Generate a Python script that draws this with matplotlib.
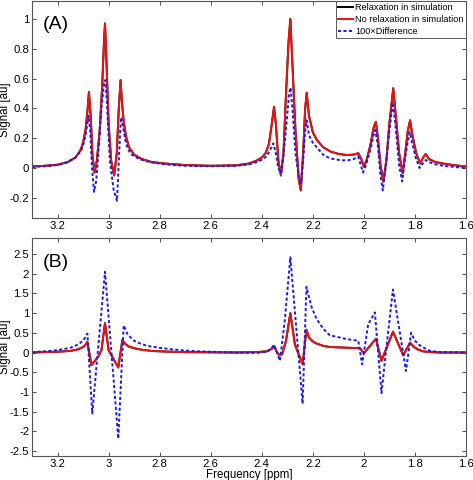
import matplotlib
matplotlib.use('Agg')
from matplotlib import pyplot as plt

plt.rcParams['font.family'] = ['Liberation Sans', 'DejaVu Sans']

# ---------------- panel A: spectra ----------------
ppm_a = [3.30, 3.25, 3.20, 3.16, 3.13, 3.11, 3.10, 3.09, 3.083, 3.077, 3.070, 3.063, 3.055, 3.046, 3.035,
         3.025, 3.018, 3.014, 3.009, 3.000, 2.990, 2.978, 2.968, 2.960, 2.953, 2.948, 2.940, 2.930, 2.920,
         2.900, 2.870, 2.830, 2.780, 2.700, 2.600, 2.500, 2.450, 2.420, 2.400, 2.385, 2.372, 2.362, 2.352,
         2.345, 2.335, 2.325, 2.315, 2.305, 2.295, 2.288, 2.280, 2.268, 2.255, 2.247, 2.238, 2.230, 2.224,
         2.215, 2.200, 2.185, 2.160, 2.130, 2.100, 2.067, 2.040, 2.022, 2.010, 2.000, 1.990, 1.975, 1.962,
         1.953, 1.945, 1.935, 1.924, 1.912, 1.900, 1.885, 1.875, 1.862, 1.848, 1.838, 1.828, 1.819, 1.810,
         1.795, 1.780, 1.768, 1.758, 1.745, 1.720, 1.690, 1.650, 1.600]
relax_a = [0.010, 0.015, 0.022, 0.04, 0.07, 0.12, 0.17, 0.26, 0.38, 0.51, 0.35, 0.08, -0.03, 0.05, 0.25,
           0.55, 0.85, 0.97, 0.75, 0.30, 0.05, -0.05, 0.10, 0.40, 0.59, 0.45, 0.30, 0.20, 0.14,
           0.09, 0.06, 0.04, 0.03, 0.02, 0.015, 0.018, 0.03, 0.05, 0.07, 0.10, 0.16, 0.28, 0.41,
           0.30, 0.05, -0.05, 0.10, 0.50, 0.85, 1.00, 0.70, 0.25, -0.08, -0.15, 0.10, 0.40, 0.505,
           0.35, 0.24, 0.19, 0.14, 0.11, 0.095, 0.087, 0.09, 0.099, 0.06, 0.01, 0.05, 0.15, 0.27,
           0.31, 0.20, 0.02, -0.09, 0.05, 0.30, 0.535, 0.35, 0.10, -0.036, 0.10, 0.25, 0.32, 0.22,
           0.10, 0.03, 0.07, 0.094, 0.06, 0.04, 0.03, 0.02, 0.01]
norelax_a = relax_a

ppm_a_diff = [3.30, 3.25, 3.20, 3.16, 3.13, 3.11, 3.10, 3.09, 3.083, 3.078, 3.072, 3.065, 3.057, 3.048, 3.038,
              3.028, 3.018, 3.013, 3.007, 2.995, 2.980, 2.967, 2.960, 2.953, 2.950, 2.943, 2.935, 2.925,
              2.910, 2.880, 2.840, 2.780, 2.700, 2.600, 2.500, 2.450, 2.420, 2.400, 2.380, 2.365, 2.355,
              2.345, 2.335, 2.326, 2.315, 2.303, 2.293, 2.287, 2.280, 2.268, 2.255, 2.247, 2.238, 2.230,
              2.224, 2.215, 2.200, 2.185, 2.160, 2.133, 2.100, 2.067, 2.040, 2.022, 2.012, 2.003, 1.992,
              1.975, 1.962, 1.955, 1.945, 1.935, 1.926, 1.915, 1.900, 1.887, 1.877, 1.862, 1.850, 1.840,
              1.828, 1.820, 1.810, 1.795, 1.782, 1.770, 1.758, 1.745, 1.720, 1.690, 1.650, 1.600]
diff_a = [0.008, 0.012, 0.02, 0.04, 0.07, 0.11, 0.15, 0.22, 0.30, 0.35, 0.25, 0.0, -0.16, -0.08, 0.15,
          0.40, 0.57, 0.59, 0.45, 0.05, -0.15, -0.22, 0.05, 0.30, 0.34, 0.27, 0.19, 0.13,
          0.09, 0.06, 0.04, 0.025, 0.015, 0.012, 0.015, 0.025, 0.04, 0.055, 0.08, 0.13, 0.166,
          0.10, 0.0, -0.035, 0.08, 0.30, 0.50, 0.54, 0.40, 0.10, -0.06, -0.10, 0.05, 0.25,
          0.32, 0.22, 0.17, 0.14, 0.09, 0.065, 0.055, 0.05, 0.06, 0.076, 0.02, -0.03, 0.02,
          0.12, 0.22, 0.255, 0.15, -0.05, -0.15, 0.0, 0.25, 0.44, 0.30, 0.02, -0.09, 0.05,
          0.18, 0.24, 0.16, 0.06, 0.0, 0.03, 0.054, 0.04, 0.025, 0.015, 0.008, 0.0]

# ---------------- panel B ----------------
ppm_b = [3.30, 3.25, 3.20, 3.15, 3.12, 3.10, 3.09, 3.083, 3.067, 3.040, 3.028, 3.014, 3.000, 2.962, 2.946,
         2.935, 2.920, 2.900, 2.870, 2.830, 2.780, 2.700, 2.600, 2.500, 2.420, 2.380, 2.360, 2.352, 2.340,
         2.330, 2.320, 2.305, 2.288, 2.270, 2.240, 2.225, 2.215, 2.200, 2.186, 2.160, 2.134, 2.100, 2.060,
         2.015, 2.000, 1.953, 1.931, 1.886, 1.846, 1.819, 1.805, 1.790, 1.768, 1.740, 1.700, 1.600]
relax_b = [0.0, 0.01, 0.02, 0.04, 0.08, 0.14, 0.20, 0.27, -0.32, -0.10, 0.06, 0.75, 0.06, -0.38, 0.32,
           0.22, 0.15, 0.11, 0.07, 0.04, 0.025, 0.01, 0.005, 0.0, 0.01, 0.03, 0.10, 0.16, 0.0,
           -0.07, -0.04, 0.30, 1.0, 0.20, -0.30, 0.58, 0.38, 0.28, 0.23, 0.17, 0.14, 0.13, 0.12,
           0.11, -0.02, 0.35, -0.21, 0.53, -0.07, 0.25, 0.15, 0.08, 0.03, 0.01, 0.0, 0.0]
norelax_b = relax_b

ppm_b_diff = [3.30, 3.25, 3.20, 3.15, 3.12, 3.10, 3.090, 3.083, 3.064, 3.014, 2.962, 2.941, 2.925, 2.900,
              2.877, 2.850, 2.800, 2.750, 2.700, 2.650, 2.600, 2.500, 2.420, 2.380, 2.365, 2.352, 2.340,
              2.329, 2.310, 2.288, 2.240, 2.225, 2.205, 2.186, 2.160, 2.134, 2.067, 2.022, 2.007, 1.983,
              1.957, 1.931, 1.913, 1.886, 1.835, 1.815, 1.800, 1.785, 1.768, 1.740, 1.700, 1.600]
diff_b = [0.01, 0.03, 0.06, 0.12, 0.20, 0.30, 0.40, 0.48, -1.55, 2.05, -2.19, 0.69, 0.45, 0.30,
          0.23, 0.17, 0.12, 0.08, 0.05, 0.03, 0.02, 0.0, -0.01, 0.02, 0.08, 0.20, 0.0,
          -0.21, 0.80, 2.42, -1.30, 1.67, 1.16, 0.86, 0.61, 0.44, 0.34, 0.30, -0.30, 0.72,
          1.02, -1.03, 0.06, 1.60, -0.47, 0.50, 0.30, 0.20, 0.13, 0.04, 0.01, 0.0]

xticks = [3.2, 3.0, 2.8, 2.6, 2.4, 2.2, 2.0, 1.8, 1.6]
xticklabels = ['3.2', '3', '2.8', '2.6', '2.4', '2.2', '2', '1.8', '1.6']
yticks_a = [-0.2, 0, 0.2, 0.4, 0.6, 0.8, 1]
yticklabels_a = ['-0.2', '0', '0.2', '0.4', '0.6', '0.8', '1']
yticks_b = [-2.5, -2, -1.5, -1, -0.5, 0, 0.5, 1, 1.5, 2, 2.5]
yticklabels_b = ['-2.5', '-2', '-1.5', '-1', '-0.5', '0', '0.5', '1', '1.5', '2', '2.5']

fig = plt.figure(figsize=(4.73, 4.80), dpi=100)
W, H = 473.0, 480.0
ax1 = fig.add_axes([32 / W, 1 - 218 / H, 434 / W, 217 / H])
ax2 = fig.add_axes([32 / W, 1 - 456 / H, 434 / W, 218 / H])

dash = (0, (1.6, 1.2))
for ax, px, r, n, pd_, d in [(ax1, ppm_a, relax_a, norelax_a, ppm_a_diff, diff_a),
                              (ax2, ppm_b, relax_b, norelax_b, ppm_b_diff, diff_b)]:
    ax.plot(px, r, color='k', lw=1.4, label='Relaxation in simulation')
    ax.plot(px, n, color='#ee1111', lw=1.4, label='No relaxation in simulation')
    ax.plot(pd_, d, color='#1a1aee', lw=1.4, linestyle=dash, label='100\u00d7Difference')
    ax.set_xlim(3.3, 1.6)
    ax.set_xticks(xticks)
    ax.set_xticklabels(xticklabels)
    ax.tick_params(direction='in', top=True, right=True, labelsize=8.2, length=3, width=0.6,
                   colors='#333333', labelcolor='black', pad=2)
    for s in ax.spines.values():
        s.set_linewidth(0.8)
        s.set_color('#555555')
    ax.set_ylabel('Signal [au]', fontsize=8.3, va='center')
    ax.yaxis.set_label_coords(-0.062, 0.5)

ax1.set_ylim(-0.335, 1.12)
ax1.set_yticks(yticks_a)
ax1.set_yticklabels(yticklabels_a)
ax2.set_ylim(-2.63, 2.91)
ax2.set_yticks(yticks_b)
ax2.set_yticklabels(yticklabels_b)
ax2.set_xlabel('Frequency [ppm]', fontsize=8.3, va='top')
ax2.xaxis.set_label_coords(0.5, -0.058)

ax1.text(0.025, 0.93, '(A)', transform=ax1.transAxes, fontsize=14, va='top')
ax2.text(0.025, 0.925, '(B)', transform=ax2.transAxes, fontsize=14, va='top')

leg = ax1.legend(loc='upper right', fontsize=6.6, handlelength=1.7, handletextpad=0.2,
                 borderpad=0.25, labelspacing=0.3, borderaxespad=0.0, fancybox=False,
                 framealpha=1, edgecolor='#444444')
leg.get_frame().set_linewidth(0.6)

fig.savefig('out.png', dpi=100)
